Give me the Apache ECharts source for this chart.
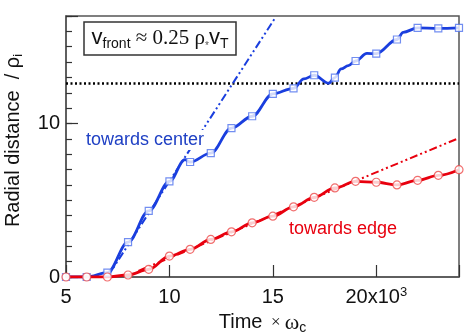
<!DOCTYPE html>
<html><head><meta charset="utf-8">
<script src="https://cdn.jsdelivr.net/npm/echarts@6/dist/echarts.min.js"></script>
<style>html,body{margin:0;padding:0;background:#fff}#c{width:474px;height:332px}</style>
</head><body><div id="c"></div>
<script>
// ---- data ----
var timeK = [5,6,7,8,9,10,11,12,13,14,15,16,17,18,19,20,21,22,23,24];
var towardsCenter = [0,0,0.28,2.27,4.31,6.23,7.49,8.07,9.7,10.47,11.93,12.29,13.14,12.99,14.07,14.55,15.47,16.23,16.19,16.23];
var towardsEdge = [0,0,0,0.13,0.5,1.36,1.8,2.45,2.94,3.53,3.96,4.57,5.19,5.8,6.23,6.17,6.0,6.3,6.62,6.99];
// additional points of the drawn (smoothed) center curve, read between markers
var centerCurveExtraT = [10.75,16.5,17.7,18.3,18.65,19.55,21.3];
var centerCurveExtraV = [7.65,12.9,12.62,13.55,13.77,14.56,15.93];
// fitted front lines (dash-dot-dot)
var centerFitT = [7,15.1];
var centerFitV = [0,16.85];
var edgeFitT = [8.5,24];
var edgeFitV = [0.4,9.05];
// horizontal dotted reference
var refT = [5,24];
var refV = [12.6,12.6];
// axis ticks
var xTicks = [5,10,15,20];
var yTicks = [0,10];

function pairs(xs, ys){ return xs.map(function(x,i){ return [x, ys[i]]; }); }
var centerCurve = pairs(timeK, towardsCenter).concat(pairs(centerCurveExtraT, centerCurveExtraV))
  .sort(function(a,b){ return a[0]-b[0]; });

var BLUE = '#1a3ede', RED = '#e8000e';
var SANS = '"Liberation Sans", Arial, sans-serif';
var SERIF = '"Liberation Serif", "Times New Roman", serif';

var chart = echarts.init(document.getElementById('c'), null, {renderer:'canvas'});
chart.setOption({
  animation: false,
  backgroundColor: '#fff',
  grid: {left: 66, right: 15, top: 16, bottom: 55, containLabel: false, outerBoundsMode: 'none',
         show: true, borderColor: '#555', borderWidth: 1.5, backgroundColor: 'transparent'},
  xAxis: {
    type: 'value', min: 5, max: 24, interval: 5,
    axisLine: {lineStyle: {color: '#555', width: 1.5}},
    axisTick: {inside: true, length: 12, lineStyle: {color: '#333', width: 1.2}},
    splitLine: {show: false},
    axisLabel: {
      margin: 9, color: '#111', fontFamily: SANS, fontSize: 20,
      formatter: function(v){
        if (xTicks.indexOf(v) < 0) return '';
        if (v === 20) return '{a|20x10}{s|3}';
        return '{a|' + v + '}';
      },
      rich: {
        a: {fontFamily: SANS, fontSize: 20, lineHeight: 22, color: '#111'},
        s: {fontFamily: SANS, fontSize: 13, lineHeight: 13, verticalAlign: 'top', color: '#111'}
      }
    },
    name: '{t|Time}{x|  × }{w|ω}{c|c}',
    nameLocation: 'middle', nameGap: 24,
    nameTextStyle: {
      rich: {
        t: {fontFamily: SANS, fontSize: 20, lineHeight: 24, color: '#111'},
        x: {fontFamily: SERIF, fontSize: 17, lineHeight: 24, color: '#111'},
        w: {fontFamily: SERIF, fontSize: 22, lineHeight: 24, color: '#111'},
        c: {fontFamily: SANS, fontSize: 14, lineHeight: 14, verticalAlign: 'bottom', color: '#111'}
      }
    }
  },
  yAxis: [{
    type: 'value', min: 0, max: 17, interval: 1,
    axisLine: {show: true, lineStyle: {color: '#555', width: 1.5}},
    axisTick: {inside: true, length: 6, lineStyle: {color: '#333', width: 1.2}},
    splitLine: {show: false},
    axisLabel: {
      margin: 6, color: '#111', fontFamily: SANS, fontSize: 20,
      formatter: function(v){ return yTicks.indexOf(v) >= 0 ? String(v) : ''; }
    },
    name: '{a|Radial distance  / ρ}{s|i}',
    nameLocation: 'middle', nameGap: 41, nameRotate: 90,
    nameTextStyle: {
      padding: [0, 0, 0, 12],
      rich: {
        a: {fontFamily: SANS, fontSize: 20, lineHeight: 24, color: '#111'},
        s: {fontFamily: SANS, fontSize: 13, lineHeight: 13, verticalAlign: 'bottom', color: '#111'}
      }
    }
  }, {
    type: 'value', min: 0, max: 17, interval: 10, position: 'left',
    axisLine: {show: false},
    axisTick: {show: true, inside: true, length: 12, lineStyle: {color: '#333', width: 1.2}},
    axisLabel: {show: false},
    splitLine: {show: false}
  }],
  series: [
    {type: 'line', data: pairs(refT, refV), showSymbol: false, silent: true, z: 1,
     lineStyle: {color: '#000', width: 2.5, type: [2, 2.5]}},
    {type: 'line', data: pairs(centerFitT, centerFitV), showSymbol: false, z: 2,
     lineStyle: {color: BLUE, width: 2, type: [8, 3, 2, 3, 2, 3]}},
    {type: 'line', data: pairs(edgeFitT, edgeFitV), showSymbol: false, z: 2,
     lineStyle: {color: RED, width: 2, type: [8, 3, 2, 3, 2, 3]}},
    {type: 'line', data: centerCurve, showSymbol: false, smooth: 0.35, smoothMonotone: 'x', z: 3,
     lineStyle: {color: BLUE, width: 2.8}},
    {type: 'line', data: pairs(timeK, towardsEdge), showSymbol: false, smooth: 0.35, smoothMonotone: 'x', z: 3,
     lineStyle: {color: RED, width: 2.8}},
    {type: 'scatter', data: pairs(timeK, towardsCenter), symbol: 'rect', symbolSize: 7, z: 4,
     itemStyle: {color: '#fff', borderColor: '#4f72ee', borderWidth: 1.2}},
    {type: 'scatter', data: pairs(timeK, towardsEdge), symbol: 'circle', symbolSize: 8, z: 5,
     itemStyle: {color: '#fff', borderColor: '#ee4a4a', borderWidth: 1.2}}
  ],
  graphic: [
    {type: 'rect', z: 100, shape: {x: 84, y: 22, width: 152, height: 33},
     style: {fill: '#fff', stroke: '#333', lineWidth: 1.5}},
    {type: 'text', z: 101, x: 160, y: 38,
     style: {
       text: '{v|v}{sb|front}{m| ≈ 0.25 ρ}{st|*}{v|v}{sb|T}',
       align: 'center', verticalAlign: 'middle',
       rich: {
         v: {fontFamily: SANS, fontSize: 22, lineHeight: 26, fill: '#111'},
         m: {fontFamily: SERIF, fontSize: 21, lineHeight: 26, fill: '#111'},
         sb: {fontFamily: SANS, fontSize: 14, lineHeight: 14, verticalAlign: 'bottom', fill: '#111'},
         st: {fontFamily: SANS, fontSize: 10, lineHeight: 10, verticalAlign: 'bottom', fill: '#555'}
       }
     }},
    {type: 'text', z: 100, x: 85, y: 140,
     style: {text: 'towards center', fontFamily: SANS, fontSize: 18, fill: '#1f40c4',
             verticalAlign: 'middle', backgroundColor: '#fff', padding: [1, 1]}},
    {type: 'text', z: 100, x: 289, y: 229,
     style: {text: 'towards edge', fontFamily: SANS, fontSize: 18, fill: RED,
             verticalAlign: 'middle'}}
  ]
});
</script>
</body></html>
